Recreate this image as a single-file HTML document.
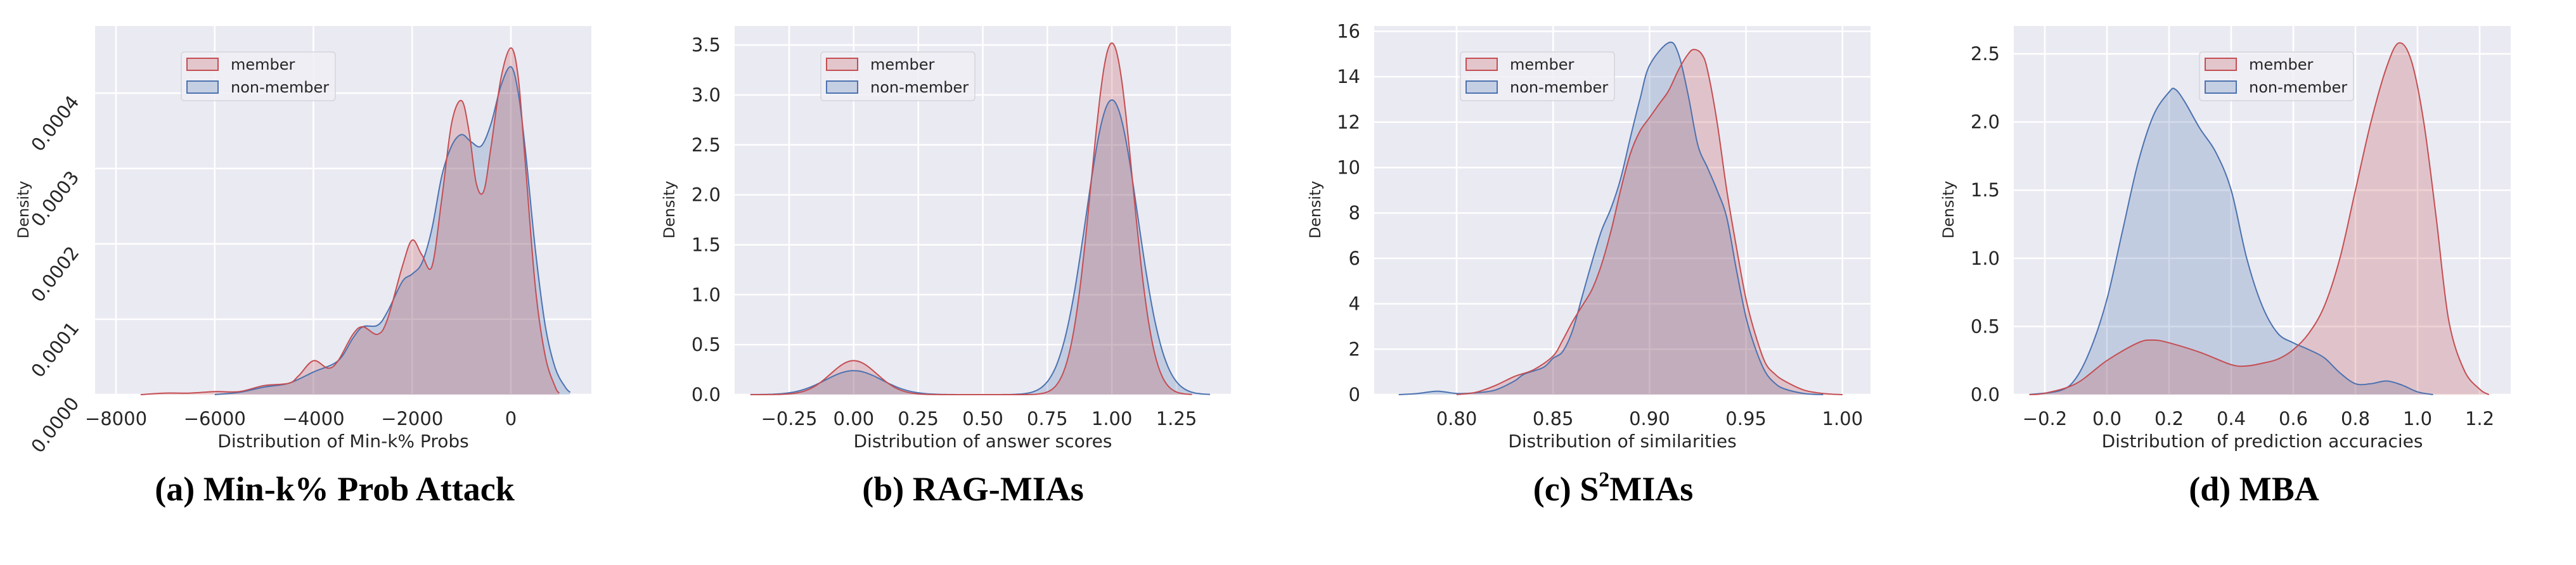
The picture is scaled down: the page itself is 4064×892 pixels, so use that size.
<!DOCTYPE html>
<html><head><meta charset="utf-8">
<style>
html,body{margin:0;padding:0;background:#fff;}
svg{display:block;}
text{font-family:"DejaVu Sans","Liberation Sans",sans-serif;fill:#262626;}
.cap{font-family:"Liberation Serif",serif;font-weight:bold;fill:#000;}
</style></head>
<body>
<svg id="s" width="4064" height="892" xmlns="http://www.w3.org/2000/svg"></svg>
<script>
const NS="http://www.w3.org/2000/svg";
const svg=document.getElementById('s');
function el(t,a,txt){const e=document.createElementNS(NS,t);for(const k in a)e.setAttribute(k,a[k]);if(txt!==undefined)e.textContent=txt;svg.appendChild(e);return e;}
function crPath(pts){let d='M'+pts[0][0].toFixed(1)+','+pts[0][1].toFixed(1);
 for(let i=0;i<pts.length-1;i++){const p0=pts[Math.max(0,i-1)],p1=pts[i],p2=pts[i+1],p3=pts[Math.min(pts.length-1,i+2)];
 const c1=[p1[0]+(p2[0]-p0[0])/6,p1[1]+(p2[1]-p0[1])/6],c2=[p2[0]-(p3[0]-p1[0])/6,p2[1]-(p3[1]-p1[1])/6];
 d+=' C'+c1[0].toFixed(1)+','+c1[1].toFixed(1)+' '+c2[0].toFixed(1)+','+c2[1].toFixed(1)+' '+p2[0].toFixed(1)+','+p2[1].toFixed(1);}
 return d;}
function panel(o){
 const L=o.L,R=o.R,T=41,B=623;
 const X=v=>o.x0px+(v-o.x0)*o.xs, Y=v=>B-(v-o.y0)*o.ys;
 el('rect',{x:L,y:T,width:R-L,height:B-T,fill:'#EAEAF2'});
 o.xt.forEach(v=>el('line',{x1:X(v),x2:X(v),y1:T,y2:B,stroke:'#fff','stroke-width':2.5}));
 o.yt.forEach(v=>el('line',{x1:L,x2:R,y1:Y(v),y2:Y(v),stroke:'#fff','stroke-width':2.5}));
 o.xt.forEach((v,i)=>el('text',{x:X(v),y:671,'font-size':29,'text-anchor':'middle'},o.xl[i]));
 o.yt.forEach((v,i)=>{
  if(o.rot){el('text',{x:L-24,y:Y(v)+14,'font-size':29,'text-anchor':'end',transform:`rotate(-52 ${L-24} ${Y(v)+14})`},o.yl[i]);}
  else el('text',{x:L-22,y:Y(v)+10,'font-size':29,'text-anchor':'end'},o.yl[i]);});
 el('text',{x:(L+R)/2,y:706,'font-size':28,'text-anchor':'middle'},o.xlabel);
 el('text',{x:o.dx,y:331,'font-size':24,'text-anchor':'middle',transform:`rotate(-90 ${o.dx} 331)`},'Density');
 const series=[[o.blue,'#4C72B0'],[o.red,'#C44E52']];
 series.forEach(([d,c])=>{const pts=d.map(p=>[X(p[0]),Y(p[1])]);
  const line=crPath(pts);
  el('path',{d:line+` L${pts[pts.length-1][0].toFixed(1)},${B} L${pts[0][0].toFixed(1)},${B} Z`,fill:c,'fill-opacity':0.25,stroke:'none'});
 });
 series.forEach(([d,c])=>{const pts=d.map(p=>[X(p[0]),Y(p[1])]);
  el('path',{d:crPath(pts),fill:'none',stroke:c,'stroke-width':2});});
 const lx=o.lg;
 el('rect',{x:lx,y:82,width:243,height:77,rx:5,fill:'#EEEEF4','fill-opacity':0.85,stroke:'#d4d4dc','stroke-width':1.5});
 el('rect',{x:lx+9,y:92,width:49,height:19,fill:'#C44E52','fill-opacity':0.25,stroke:'#C44E52','stroke-width':2});
 el('rect',{x:lx+9,y:128,width:49,height:19,fill:'#4C72B0','fill-opacity':0.25,stroke:'#4C72B0','stroke-width':2});
 el('text',{x:lx+78,y:110,'font-size':24},'member');
 el('text',{x:lx+78,y:146,'font-size':24},'non-member');
 const c=el('text',{x:o.cx,y:790,'font-size':54,'text-anchor':'middle','class':'cap'});
 c.innerHTML=o.cap;
}
panel({L:150,R:933,x0:-8000,x0px:183,xs:623/8000,y0:0,ys:119/0.0001,
 xt:[-8000,-6000,-4000,-2000,0],xl:['\u22128000','\u22126000','\u22124000','\u22122000','0'],
 yt:[0,0.0001,0.0002,0.0003,0.0004],yl:['0.0000','0.0001','0.0002','0.0003','0.0004'],rot:true,
 xlabel:'Distribution of Min-k% Probs',dx:45,lg:286,cx:528,cap:'(a) Min-k% Prob Attack',
 red:[[-7500,0],[-7000,0.02],[-6500,0.02],[-6000,0.04],[-5500,0.04],[-5000,0.12],[-4500,0.15],[-4300,0.25],[-4000,0.45],[-3700,0.35],[-3500,0.45],[-3200,0.8],[-3000,0.9],[-2700,0.8],[-2500,1.0],[-2200,1.7],[-2000,2.05],[-1800,1.85],[-1600,1.7],[-1400,2.6],[-1200,3.6],[-1000,3.9],[-850,3.5],[-700,2.8],[-550,2.7],[-400,3.3],[-200,4.2],[0,4.6],[150,4.2],[300,3.0],[500,1.4],[700,0.5],[900,0.1],[980,0.02]].map(p=>[p[0],p[1]*1e-4]),
 blue:[[-6000,0],[-5500,0.03],[-5000,0.1],[-4500,0.15],[-4000,0.3],[-3500,0.45],[-3200,0.75],[-3000,0.9],[-2700,0.92],[-2500,1.1],[-2200,1.5],[-2000,1.6],[-1800,1.75],[-1600,2.2],[-1400,2.9],[-1200,3.3],[-1000,3.45],[-800,3.35],[-600,3.3],[-400,3.6],[-200,4.1],[0,4.35],[150,4.0],[300,3.2],[500,1.9],[700,0.9],[900,0.35],[1100,0.1],[1200,0.03]].map(p=>[p[0],p[1]*1e-4])
});
function gauss(comps,a,b,n){const r=[];for(let i=0;i<=n;i++){const x=a+(b-a)*i/n;let y=0;comps.forEach(([m,h,s])=>y+=h*Math.exp(-0.5*((x-m)/s)**2));r.push([x,y]);}return r;}
panel({L:1159,R:1942,x0:-0.25,x0px:1245,xs:611/1.5,y0:0,ys:157.7,
 xt:[-0.25,0,0.25,0.5,0.75,1,1.25],xl:['\u22120.25','0.00','0.25','0.50','0.75','1.00','1.25'],
 yt:[0,0.5,1,1.5,2,2.5,3,3.5],yl:['0.0','0.5','1.0','1.5','2.0','2.5','3.0','3.5'],
 xlabel:'Distribution of answer scores',dx:1064,lg:1295,cx:1535,cap:'(b) RAG-MIAs',
 red:gauss([[0,0.34,0.09],[1,3.52,0.08]],-0.4,1.31,120),
 blue:gauss([[0,0.24,0.11],[1,2.95,0.1]],-0.4,1.38,120)
});
panel({L:2168,R:2951,x0:0.8,x0px:2298,xs:152.2/0.05,y0:0,ys:71.7/2,
 xt:[0.8,0.85,0.9,0.95,1.0],xl:['0.80','0.85','0.90','0.95','1.00'],
 yt:[0,2,4,6,8,10,12,14,16],yl:['0','2','4','6','8','10','12','14','16'],
 xlabel:'Distribution of similarities',dx:2083,lg:2304,cx:2545,cap:'(c) S<tspan dy="-22" font-size="34">2</tspan><tspan dy="22">MIAs</tspan>',
 red:[[0.80,0],[0.81,0.1],[0.82,0.4],[0.83,0.8],[0.84,1.1],[0.85,1.7],[0.855,2.4],[0.86,3.2],[0.865,3.9],[0.87,4.6],[0.875,5.7],[0.88,7.2],[0.885,9.0],[0.89,10.6],[0.895,11.6],[0.90,12.2],[0.905,12.8],[0.91,13.4],[0.915,14.3],[0.92,15.0],[0.923,15.2],[0.927,15.0],[0.93,14.3],[0.935,12.0],[0.94,9.0],[0.945,6.5],[0.95,4.2],[0.955,2.6],[0.96,1.4],[0.965,0.9],[0.97,0.6],[0.98,0.2],[0.99,0.05],[1.0,0]],
 blue:[[0.77,0],[0.78,0.05],[0.79,0.15],[0.80,0.05],[0.81,0.08],[0.82,0.2],[0.83,0.6],[0.835,0.9],[0.845,1.2],[0.85,1.6],[0.855,1.9],[0.86,2.8],[0.865,4.3],[0.87,5.8],[0.875,7.2],[0.88,8.2],[0.885,9.5],[0.89,11.3],[0.895,13],[0.90,14.5],[0.91,15.5],[0.915,15.0],[0.92,13.2],[0.925,11.0],[0.93,10.0],[0.935,9.0],[0.94,7.8],[0.945,5.5],[0.95,3.4],[0.955,2.0],[0.96,1.0],[0.965,0.5],[0.97,0.25],[0.98,0.05],[0.99,0]]
});
panel({L:3177,R:3961,x0:-0.2,x0px:3226,xs:98/0.2,y0:0,ys:107.6/0.5,
 xt:[-0.2,0,0.2,0.4,0.6,0.8,1.0,1.2],xl:['\u22120.2','0.0','0.2','0.4','0.6','0.8','1.0','1.2'],
 yt:[0,0.5,1,1.5,2,2.5],yl:['0.0','0.5','1.0','1.5','2.0','2.5'],
 xlabel:'Distribution of prediction accuracies',dx:3082,lg:3470,cx:3556,cap:'(d) MBA',
 red:[[-0.25,0],[-0.2,0.01],[-0.1,0.08],[0,0.25],[0.1,0.38],[0.15,0.4],[0.2,0.38],[0.3,0.31],[0.4,0.22],[0.45,0.21],[0.5,0.23],[0.55,0.26],[0.6,0.33],[0.65,0.45],[0.7,0.65],[0.75,1.0],[0.8,1.5],[0.85,2.0],[0.9,2.4],[0.94,2.58],[0.98,2.45],[1.02,2.0],[1.06,1.3],[1.1,0.55],[1.15,0.18],[1.2,0.04],[1.23,0]],
 blue:[[-0.25,0],[-0.15,0.03],[-0.1,0.12],[-0.05,0.35],[0,0.7],[0.05,1.2],[0.1,1.7],[0.15,2.05],[0.2,2.22],[0.22,2.24],[0.25,2.15],[0.3,1.95],[0.35,1.78],[0.4,1.5],[0.45,1.0],[0.5,0.65],[0.55,0.45],[0.6,0.38],[0.65,0.33],[0.7,0.27],[0.75,0.16],[0.8,0.08],[0.85,0.08],[0.9,0.1],[0.95,0.07],[1.0,0.02],[1.05,0]]
});
</script>
</body></html>
